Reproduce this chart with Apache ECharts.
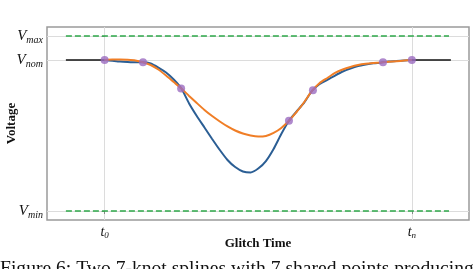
<!DOCTYPE html>
<html>
	<head>
		<meta charset="UTF-8">
		<title>glitch splines</title>
		<script src="https://cdn.jsdelivr.net/npm/echarts@6/dist/echarts.min.js"></script>
		<style>
			html, body {
				margin: 0;
				padding: 0;
				background: #fff;
			}
			#chart {
				width: 474px;
				height: 269px;
			}
		</style>
	</head>
	<body>
		<div id="chart"></div>
		<script>
			// sample times (t0 = 0, tn = 1)
			var sampleT = [0, 0.025, 0.05, 0.075, 0.1, 0.125, 0.15, 0.175, 0.2, 0.225,
				0.25, 0.275, 0.3, 0.325, 0.35, 0.375, 0.4, 0.425, 0.45, 0.475,
				0.5, 0.525, 0.55, 0.575, 0.6, 0.625, 0.65, 0.675, 0.7, 0.725,
				0.75, 0.775, 0.8, 0.825, 0.85, 0.875, 0.9, 0.925, 0.95, 0.975, 1];
			// voltage, Vmin = 0, Vnom = 1
			var blueSpline = [1.000, 0.995, 0.990, 0.987, 0.985, 0.985, 0.977, 0.950, 0.917, 0.871,
				0.811, 0.712, 0.629, 0.553, 0.477, 0.404, 0.338, 0.291, 0.262, 0.255,
				0.281, 0.331, 0.411, 0.510, 0.598, 0.659, 0.719, 0.795, 0.841, 0.868,
				0.897, 0.924, 0.944, 0.960, 0.970, 0.978, 0.983, 0.990, 0.993, 0.997, 1.000];
			var orangeSpline = [1.000, 1.003, 1.003, 1.001, 0.997, 0.985, 0.967, 0.937, 0.897, 0.854,
				0.811, 0.762, 0.715, 0.669, 0.629, 0.593, 0.560, 0.533, 0.513, 0.500,
				0.493, 0.497, 0.517, 0.550, 0.598, 0.656, 0.722, 0.795, 0.848, 0.881,
				0.914, 0.937, 0.954, 0.967, 0.975, 0.980, 0.984, 0.988, 0.992, 0.996, 1.000];
			var knotT = [0, 0.125, 0.249, 0.600, 0.678, 0.906, 1];
			var knotV = [1, 0.985, 0.811, 0.598, 0.800, 0.985, 1];
			var levelV = [0, 1, 1.159];          // Vmin, Vnom, Vmax
			var levelNames = ['min', 'nom', 'max'];
			var timeTicks = [0, 1];
			var timeNames = ['0', 'n'];
			var leadIn = [-0.126, 0];
			var leadOut = [1, 1.127];
			var limitSpan = [-0.126, 1.121];

			var pairs = function(xs, ys) {
				return xs.map(function(x, i) {
					return [x, ys[i]];
				});
			};
			var flat = function(xs, v) {
				return xs.map(function(x) {
					return [x, v];
				});
			};

			var serif = '"Liberation Serif", "DejaVu Serif", serif';
			var chart = echarts.init(document.getElementById('chart'), null, { renderer: 'canvas' });

			var limitStyle = { color: '#2ea84a', width: 1.6, type: [6, 3] };
			var nomStyle = { color: '#111', width: 1.6 };

			chart.setOption({
				animation: false,
				grid: {
					left: 47,
					right: 5,
					top: 27,
					bottom: 49,
					outerBoundsMode: 'none',
					containLabel: false,
					show: true,
					borderColor: '#9a9a9a',
					borderWidth: 1.5
				},
				xAxis: {
					type: 'value',
					min: -0.1875,
					max: 1.186,
					name: 'Glitch Time',
					nameLocation: 'middle',
					nameGap: 17,
					nameMoveOverlap: false,
					nameTextStyle: { fontFamily: serif, fontWeight: 'bold', fontSize: 13, color: '#111' },
					axisLine: { show: false },
					splitLine: { show: false },
					axisTick: { show: true, customValues: timeTicks, length: 3, lineStyle: { color: '#888' } },
					axisLabel: {
						customValues: timeTicks,
						margin: 4,
						formatter: function(v) {
							return '{v|t}{s|' + timeNames[timeTicks.indexOf(v)] + '}';
						},
						rich: {
							v: { fontFamily: serif, fontStyle: 'italic', fontSize: 14, color: '#111' },
							s: { fontFamily: serif, fontStyle: 'italic', fontSize: 9, color: '#111', padding: [7, 0, 0, 0] }
						}
					}
				},
				yAxis: {
					type: 'value',
					min: -0.0596,
					max: 1.2185,
					name: 'Voltage',
					nameLocation: 'middle',
					nameGap: 29,
					nameRotate: 90,
					nameMoveOverlap: false,
					nameTextStyle: { fontFamily: serif, fontWeight: 'bold', fontSize: 13, color: '#111' },
					axisLine: { show: false },
					splitLine: { show: false },
					axisTick: { show: true, customValues: levelV, length: 3, lineStyle: { color: '#888' } },
					axisLabel: {
						customValues: levelV,
						margin: 4,
						formatter: function(v) {
							return '{v|V}{s|' + levelNames[levelV.indexOf(v)] + '}';
						},
						rich: {
							v: { fontFamily: serif, fontStyle: 'italic', fontSize: 15, color: '#111' },
							s: { fontFamily: serif, fontStyle: 'italic', fontSize: 10, color: '#111', padding: [8, 0, 0, 0] }
						}
					}
				},
				graphic: [{
					type: 'text',
					left: 0,
					top: 259,
					style: {
						text: 'Figure 6: Two 7-knot splines with 7 shared points producing',
						font: '19.6px ' + serif,
						fill: '#111'
					}
				}],
				series: [{
					name: 'grid',
					type: 'line',
					data: [],
					silent: true,
					z: 0,
					markLine: {
						silent: true,
						symbol: 'none',
						z: 0,
						label: { show: false },
						lineStyle: { color: '#dcdcdc', width: 1, type: 'solid' },
						data: levelV.map(function(v) { return { yAxis: v }; })
							.concat(timeTicks.map(function(t) { return { xAxis: t }; }))
					}
				}, {
					name: 'Vmax',
					type: 'line',
					data: flat(limitSpan, levelV[2]),
					symbol: 'none',
					z: 3,
					lineStyle: limitStyle
				}, {
					name: 'Vmin',
					type: 'line',
					data: flat(limitSpan, levelV[0]),
					symbol: 'none',
					z: 3,
					lineStyle: limitStyle
				}, {
					name: 'lead in',
					type: 'line',
					data: flat(leadIn, levelV[1]),
					symbol: 'none',
					z: 3,
					lineStyle: nomStyle
				}, {
					name: 'lead out',
					type: 'line',
					data: flat(leadOut, levelV[1]),
					symbol: 'none',
					z: 3,
					lineStyle: nomStyle
				}, {
					name: 'spline A',
					type: 'line',
					data: pairs(sampleT, blueSpline),
					symbol: 'none',
					smooth: 0.2,
					z: 3,
					lineStyle: { color: '#2b5e94', width: 2 }
				}, {
					name: 'spline B',
					type: 'line',
					data: pairs(sampleT, orangeSpline),
					symbol: 'none',
					smooth: 0.2,
					z: 3,
					lineStyle: { color: '#f07e26', width: 2 }
				}, {
					name: 'knots',
					type: 'scatter',
					data: pairs(knotT, knotV),
					symbolSize: 8,
					itemStyle: { color: '#9b6cc0' },
					z: 5
				}]
			});
		</script>
	</body>
</html>
